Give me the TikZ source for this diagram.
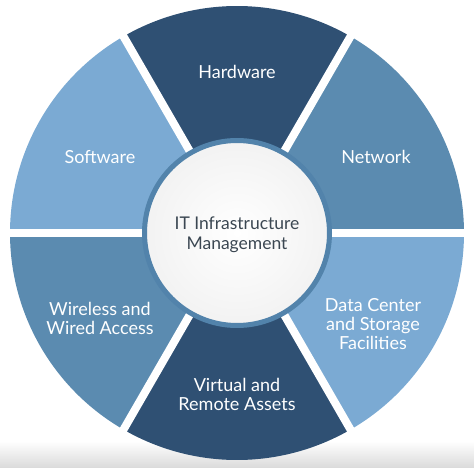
\documentclass[tikz,border=0pt]{standalone}
\usepackage{fontspec}
\setmainfont{Lato}
\definecolor{darkseg}{HTML}{2F5073}
\definecolor{midseg}{HTML}{5B8BB0}
\definecolor{lightseg}{HTML}{7BAAD3}
\definecolor{ringc}{HTML}{5283AB}
\definecolor{centertext}{HTML}{3B4752}
\begin{document}
\begin{tikzpicture}[x=1pt,y=1pt,
  seglabel/.style={text=white, font=\fontsize{18}{19}\selectfont, align=center},
  gapline/.style={white, line width=8pt}]
\useasboundingbox (0,0) rectangle (474,467);
\shade[top color=white, bottom color=black!14] (0,0) rectangle (474,26);
\coordinate (C) at (237,234);
\def\R{227}
\fill[midseg]   (C) -- ++(0:\R)   arc (0:60:\R)    -- cycle;
\fill[darkseg]  (C) -- ++(60:\R)  arc (60:120:\R)  -- cycle;
\fill[lightseg] (C) -- ++(120:\R) arc (120:180:\R) -- cycle;
\fill[midseg]   (C) -- ++(180:\R) arc (180:240:\R) -- cycle;
\fill[darkseg]  (C) -- ++(240:\R) arc (240:300:\R) -- cycle;
\fill[lightseg] (C) -- ++(300:\R) arc (300:360:\R) -- cycle;
\foreach \a in {0,60,...,300}
  \draw[gapline] (C) -- ++(\a:232);
\shade[inner color=white, outer color=black!5] (C) circle (92);
\draw[ringc, line width=5pt] (C) circle (92.5);
\node[text=centertext, font=\fontsize{17.5}{20}\selectfont, align=center] (center) at (237,232) {IT Infrastructure\\Management};
\node[seglabel] (hw) at (237,395) {Hardware};
\node[seglabel] (sw) at (100,310) {Software};
\node[seglabel] (nw) at (376,310) {Network};
\node[seglabel] (wl) at (100,149) {Wireless and\\Wired Access};
\node[seglabel] (dc) at (373,143) {Data Center\\and Storage\\Facilities};
\node[seglabel] (va) at (237,73) {Virtual and\\Remote Assets};
\end{tikzpicture}
\end{document}
